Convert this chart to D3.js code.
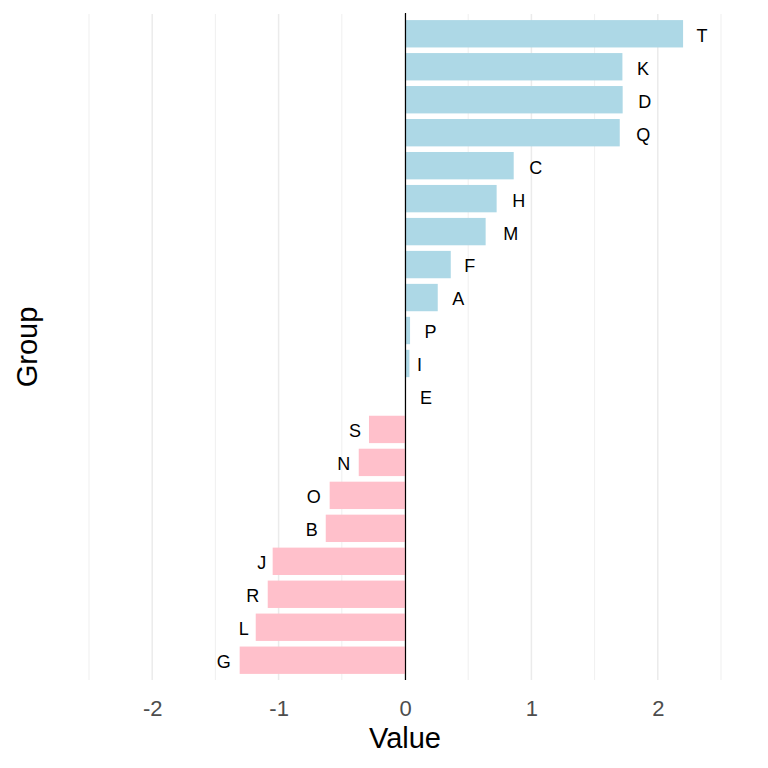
<!DOCTYPE html>
<html>
<head>
<meta charset="utf-8">
<script src="https://cdn.jsdelivr.net/npm/d3@7"></script>
<style>
  body { margin: 0; background: #fff; }
  text { font-family: "Liberation Sans", Arial, sans-serif; }
</style>
</head>
<body>
<script>
// groups, top to bottom
let groups = ['T','K','D','Q','C','H','M','F','A','P','I','E','S','N','O','B','J','R','L','G']
let values = [2.20, 1.72, 1.722, 1.699, 0.86, 0.725, 0.638, 0.362, 0.259, 0.04, 0.035, 0.003,
              -0.285, -0.366, -0.596, -0.627, -1.047, -1.086, -1.181, -1.308]
let majorTicks = [-2, -1, 0, 1, 2]
let minorTicks = [-2.5, -1.5, -0.5, 0.5, 1.5, 2.5]

let width = 768
let height = 768
let panelTop = 14
let panelBottom = 680

let data = groups.map((g, i) => ({group: g, value: values[i]}))

let svg = d3.select('body').append('svg')
  .attr('width', width).attr('height', height)

let x = d3.scaleLinear().domain([-2.75, 2.75]).range([57.4, 752.6])
let y = d3.scaleBand().domain(groups).range([panelTop, panelBottom])
  .paddingInner(0.17).paddingOuter(0.185)

// grid
svg.append('g').selectAll('line').data(minorTicks).enter().append('line')
  .attr('x1', d => x(d)).attr('x2', d => x(d))
  .attr('y1', panelTop).attr('y2', panelBottom)
  .attr('stroke', '#ebebeb').attr('stroke-width', 0.8)

svg.append('g').selectAll('line').data(majorTicks).enter().append('line')
  .attr('x1', d => x(d)).attr('x2', d => x(d))
  .attr('y1', panelTop).attr('y2', panelBottom)
  .attr('stroke', '#ebebeb').attr('stroke-width', 1.5)

// bars
svg.append('g').selectAll('rect').data(data).enter().append('rect')
  .attr('x', d => Math.min(x(0), x(d.value)))
  .attr('width', d => Math.abs(x(d.value) - x(0)))
  .attr('y', d => y(d.group))
  .attr('height', y.bandwidth())
  .attr('fill', d => d.value >= 0 ? '#add8e6' : '#ffc0cb')

// zero line
let x0 = Math.round(x(0)) + 0.5
svg.append('line')
  .attr('x1', x0).attr('x2', x0)
  .attr('y1', panelTop - 1).attr('y2', panelBottom)
  .attr('stroke', '#000').attr('stroke-width', 1.2)

// bar labels
let labels = svg.append('g').selectAll('text').data(data).enter().append('text')
  .attr('y', d => y(d.group) + y.bandwidth() / 2)
  .attr('dy', '0.44em')
  .attr('font-size', 18)
  .attr('fill', '#000')
  .text(d => d.group)

labels.each(function (d) {
  let w = this.getComputedTextLength()
  let t = d3.select(this)
  if (d.value >= 0) {
    t.attr('text-anchor', 'start').attr('x', x(d.value) + 2.5 + w)
  } else {
    t.attr('text-anchor', 'end').attr('x', x(d.value) - 2 - w / 2)
  }
})

// x axis labels
let xAxis = d3.axisBottom(x).tickValues(majorTicks).tickSize(0).tickPadding(0)
  .tickFormat(d3.format('d'))
let ax = svg.append('g').attr('transform', 'translate(0,' + panelBottom + ')').call(xAxis)
ax.select('.domain').remove()
ax.selectAll('text')
  .attr('y', 36).attr('dy', null)
  .attr('font-size', 22)
  .attr('font-family', '"Liberation Sans", Arial, sans-serif')
  .attr('fill', '#4d4d4d')
  .text(d => d < 0 ? '-' + Math.abs(d) : d)

// titles
svg.append('text')
  .attr('x', x(0)).attr('y', 748)
  .attr('text-anchor', 'middle')
  .attr('font-size', 29)
  .attr('fill', '#000')
  .text('Value')

svg.append('text')
  .attr('transform', 'translate(37,' + (panelTop + panelBottom) / 2 + ') rotate(-90)')
  .attr('text-anchor', 'middle')
  .attr('font-size', 29)
  .attr('fill', '#000')
  .text('Group')
</script>
</body>
</html>
